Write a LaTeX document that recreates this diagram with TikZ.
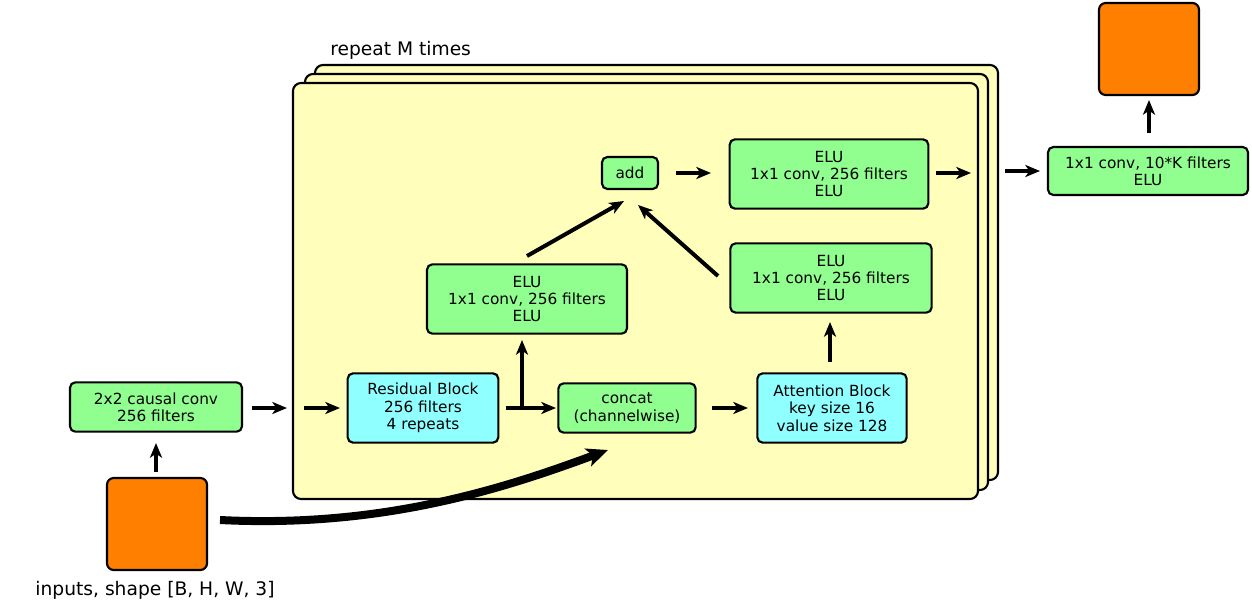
\documentclass[tikz,border=0pt]{standalone}
\usepackage{fontspec}
\setmainfont{DejaVu Sans}
\usetikzlibrary{arrows.meta}
\definecolor{yel}{RGB}{255,255,187}
\definecolor{grn}{RGB}{144,255,144}
\definecolor{cyn}{RGB}{144,255,255}
\definecolor{org}{RGB}{255,128,0}
\begin{document}
\begin{tikzpicture}[x=0.75pt,y=-0.75pt,
 box/.style={draw,line width=1.6pt,rounded corners=4pt,align=center,font=\fontsize{11.5}{13}\selectfont,inner sep=0pt},
 g/.style={box,fill=grn}, c/.style={box,fill=cyn},
 o/.style={draw,line width=1.6pt,rounded corners=5pt,fill=org,minimum width=75pt,minimum height=69pt},
 ar/.style={line width=3pt,-{Stealth[length=11pt,width=9pt,inset=3pt]}},
 pl/.style={draw,line width=1.6pt,rounded corners=6pt,fill=yel}]
\useasboundingbox (0,0) rectangle (1252,603);
\draw[pl] (315,65) rectangle (998,480);
\draw[pl] (305,74) rectangle (988,490);
\draw[pl] (293,83) rectangle (978,499);
\node[anchor=south west,font=\fontsize{14}{16}\selectfont,inner sep=0pt] (rep) at (330,60) {repeat M times};
\node[g,minimum width=129pt,minimum height=37pt] (cc) at (156,407) {2x2 causal conv\\256 filters};
\node[o] (in) at (157,524) {};
\node[font=\fontsize{14}{16}\selectfont] (inl) at (155,590) {inputs, shape [B, H, W, 3]};
\node[c,minimum width=113pt,minimum height=52pt] (res) at (423,408) {Residual Block\\256 filters\\4 repeats};
\node[g,minimum width=103pt,minimum height=37pt] (cat) at (627,408) {concat\\(channelwise)};
\node[c,minimum width=112pt,minimum height=52pt] (att) at (832,408) {Attention Block\\key size 16\\value size 128};
\node[g,minimum width=150pt,minimum height=52pt] (el) at (527,299) {ELU\\1x1 conv, 256 filters\\ELU};
\node[g,minimum width=151pt,minimum height=52pt] (er) at (831,278) {ELU\\1x1 conv, 256 filters\\ELU};
\node[g,minimum width=42pt,minimum height=24pt] (add) at (630,173) {add};
\node[g,minimum width=149pt,minimum height=52pt] (et) at (829,174) {ELU\\1x1 conv, 256 filters\\ELU};
\node[g,minimum width=150pt,minimum height=36pt] (oc) at (1148,171) {1x1 conv, 10*K filters\\ELU};
\node[o] (out) at (1149,49) {};
\coordinate (j) at (522,408);
\draw[ar] (252,408) -- (287,408);
\draw[ar] (304,408) -- (340,408);
\draw[line width=3pt] (506,408) -- (j);
\draw[ar] (j) -- (522,340);
\draw[ar] (j) -- (556,408);
\draw[ar] (712,408) -- (748,408);
\draw[ar] (830,362) -- (830,322);
\draw[ar] (527,256) -- (624,201);
\draw[ar] (718,276) -- (638,205);
\draw[ar] (676,173) -- (711,173);
\draw[ar] (936,173) -- (971,173);
\draw[ar] (1005,171) -- (1040,171);
\draw[ar] (156,472) -- (156,443);
\draw[ar] (1149,133) -- (1149,100);
\draw[line width=6pt,-{Stealth[length=16pt,width=14pt,inset=4pt]}] (220,520) .. controls (380,528) and (500,490) .. (608,450);
\end{tikzpicture}
\end{document}
